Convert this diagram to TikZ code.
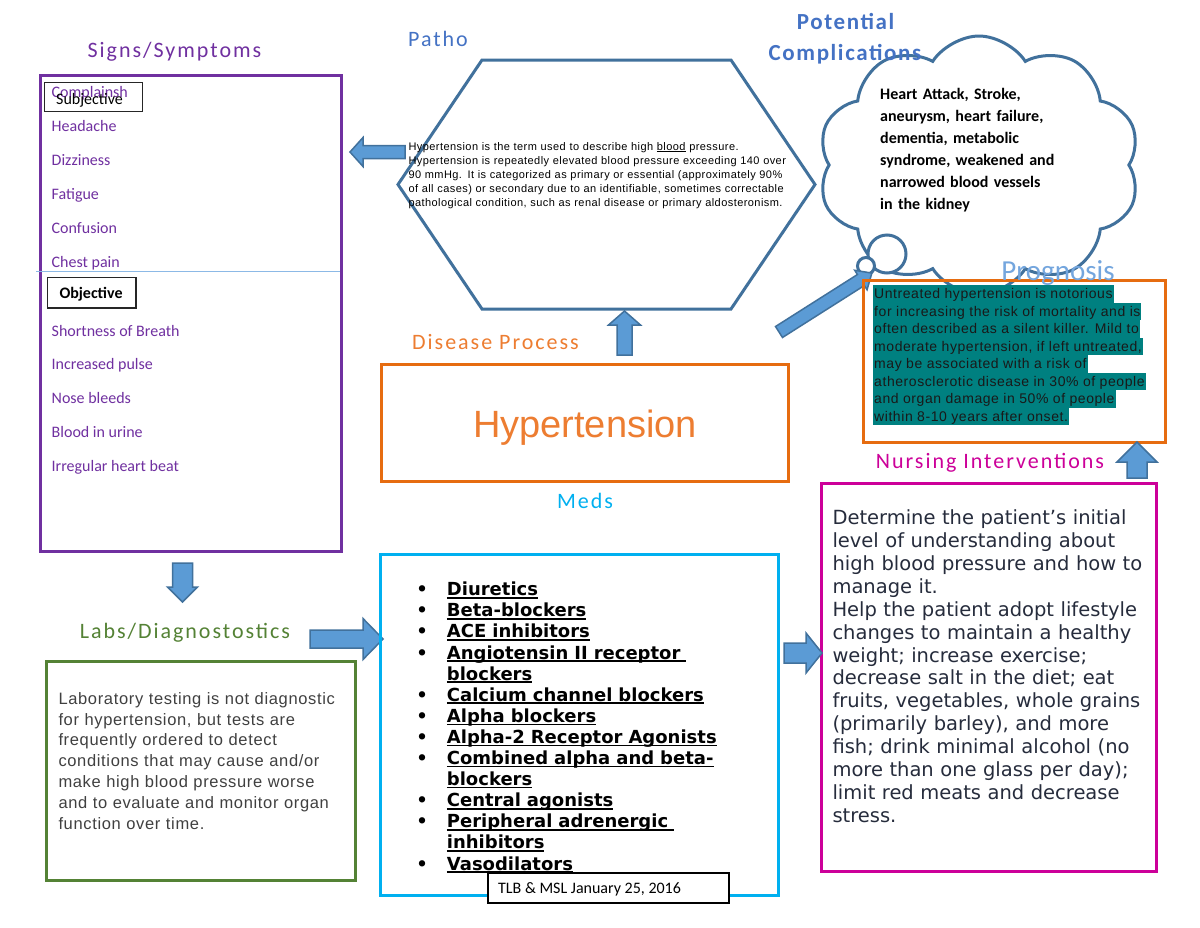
\documentclass[tikz,border=0pt]{standalone}
\usepackage{fontspec}
\setmainfont{Carlito}
\newfontfamily\headfont[LetterSpace=9]{Carlito}
\newfontfamily\headfontb[LetterSpace=7]{Carlito}
\newfontfamily\arialf{Liberation Sans}
\newfontfamily\arialsp[LetterSpace=4]{Liberation Sans}
\newfontfamily\verdf{DejaVu Sans}
\usetikzlibrary{shapes.symbols}
\definecolor{cpurple}{RGB}{112,48,160}
\definecolor{cblue}{RGB}{68,114,196}
\definecolor{cprog}{RGB}{116,166,222}
\definecolor{corange}{RGB}{237,125,49}
\definecolor{cobox}{RGB}{230,108,16}
\definecolor{ccyan}{RGB}{0,176,240}
\definecolor{cmag}{RGB}{204,0,153}
\definecolor{cgreen}{RGB}{84,130,53}
\definecolor{carrowf}{RGB}{91,155,213}
\definecolor{carrowd}{RGB}{65,113,156}
\definecolor{cline}{RGB}{140,185,230}
\definecolor{cteal}{RGB}{0,128,128}
\definecolor{cnurse}{RGB}{38,44,60}
\definecolor{clabs}{RGB}{64,64,64}
\newcommand\ulthick[1]{\leavevmode\setbox0\hbox{#1}\rlap{\rule[-2.8pt]{\wd0}{1.6pt}}\box0\relax}
\newcommand\ulthin[1]{\leavevmode\setbox0\hbox{#1}\rlap{\rule[-1.6pt]{\wd0}{0.8pt}}\box0\relax}
\newcommand\bul{\leavevmode\llap{\hbox to 30.5pt{\textbullet\hfil}}}
\tikzset{
  head/.style={anchor=base, inner sep=0, font=\headfont\fontsize{22}{26}\selectfont},
  lbl/.style={anchor=base west, inner sep=0},
  para/.style={anchor=base west, inner sep=0, align=left},
  frm/.style={line width=3},
  tag/.style={draw=black!85, line width=1.3},
  barrowsty/.style={fill=carrowf, draw=carrowd, line width=1.5, line join=miter},
  bubble/.style={draw=carrowd, line width=3, fill=white},
  item/.style={lbl, text=cpurple, font=\fontsize{16}{19}\selectfont},
  prog/.style={anchor=base west, fill=cteal, inner xsep=1, inner ysep=0, text height=13.5, text depth=4,
    text={rgb,255:red,25;green,25;blue,25}, font=\arialsp\fontsize{14}{17.5}\selectfont}
}
\newcommand\blockarrow[6]{\begin{scope}[shift={#1},rotate=#2]
\path[barrowsty] (0,-#4) -- ({#3-#6},-#4) -- ({#3-#6},-#5) -- (#3,0) -- ({#3-#6},#5) -- ({#3-#6},#4) -- (0,#4) -- cycle;
\end{scope}}
\begin{document}
\begin{tikzpicture}[x=1pt,y=-1pt]
\useasboundingbox (0,0) rectangle (1200,927);
\fill[white] (0,0) rectangle (1200,927);

% ---------- Signs / Symptoms ----------
\node[head, text=cpurple] (hsigns) at (174.5,57) {Signs/Symptoms};
\draw[frm, draw=cpurple] (40.8,75.8) rectangle (341.5,551.2);
\node[item] (s0) at (51.5,97) {Complainsh};
\draw[tag] (44.5,82.5) rectangle (142.5,111.5);
\node[lbl, font=\fontsize{16}{19}\selectfont] (subj) at (56,104) {Subjective};
\node[item] (s1) at (51.5,131) {Headache};
\node[item] (s2) at (51.5,165) {Dizziness};
\node[item] (s3) at (51.5,199) {Fatigue};
\node[item] (s4) at (51.5,233) {Confusion};
\node[item] (s5) at (51.5,267) {Chest pain};
\draw[cline, line width=1.2] (36,271.5) -- (340,271.5);
\draw[tag] (47.5,277.5) rectangle (136,308);
\node[lbl, font=\bfseries\fontsize{16}{19}\selectfont] (obj) at (59.3,298.3) {Objective};
\node[item] (o1) at (51.5,336) {Shortness of Breath};
\node[item] (o2) at (51.5,369.5) {Increased pulse};
\node[item] (o3) at (51.5,403) {Nose bleeds};
\node[item] (o4) at (51.5,437) {Blood in urine};
\node[item] (o5) at (51.5,471.5) {Irregular heart beat};

% ---------- Labs ----------
\blockarrow{(182.5,563)}{-90}{39}{10}{15}{15}
\node[head, text=cgreen] (hlabs) at (185,638.3) {Labs/Diagnostostics};
\blockarrow{(310,639)}{0}{73}{9}{20.5}{20}
\draw[frm, draw=cgreen] (46.5,661.5) rectangle (355.5,880.5);
\node[para, text width=300, text=clabs, font=\arialsp\fontsize{16.5}{20.83}\selectfont] (labs) at (58.3,704.3)
 {Laboratory testing is not diagnostic\\
  for hypertension, but tests are\\
  frequently ordered to detect\\
  conditions that may cause and/or\\
  make high blood pressure worse\\
  and to evaluate and monitor organ\\
  function over time.};

% ---------- Patho ----------
\node[head, text=cblue] (hpatho) at (438,46) {Patho};
\draw[carrowd, line width=3, line join=miter] (482,60) -- (731,60) -- (815,184.5) -- (731,309) -- (482,309) -- (398,184.5) -- cycle;
\blockarrow{(405,152)}{180}{55}{6.5}{14.5}{13}
\node[para, text width=420, font=\arialsp\fontsize{11}{14.17}\selectfont] (patho) at (408.3,150)
 {Hypertension is the term used to describe high \ulthin{blood} pressure.\\
  Hypertension is repeatedly elevated blood pressure exceeding 140 over\\
  90 mmHg. It is categorized as primary or essential (approximately 90\%\\
  of all cases) or secondary due to an identifiable, sometimes correctable\\
  pathological condition, such as renal disease or primary aldosteronism.};

% ---------- Disease process ----------
\node[head, text=corange] (hdis) at (495.5,349.3) {Disease Process};
\blockarrow{(624.5,355)}{90}{44}{7.5}{16}{14}
\draw[frm, draw=cobox] (381.5,364.5) rectangle (788.5,481.5);
\node[anchor=base, inner sep=0, text=corange, font=\arialf\fontsize{38}{44}\selectfont] (htn) at (585,437.3) {Hypertension};

% ---------- Meds ----------
\node[head, text=ccyan] (hmeds) at (585,508.3) {Meds};
\draw[frm, draw=ccyan] (380.5,554.5) rectangle (778.5,895.5);
\node[para, text width=330, font=\verdf\bfseries\fontsize{18}{21.1}\selectfont] (meds) at (446.7,595.7)
 {\bul\ulthick{Diuretics}\\
  \bul\ulthick{Beta-blockers}\\
  \bul\ulthick{ACE inhibitors}\\
  \bul\ulthick{Angiotensin II receptor\hspace{6pt}}\\
  \ulthick{blockers}\\
  \bul\ulthick{Calcium channel blockers}\\
  \bul\ulthick{Alpha blockers}\\
  \bul\ulthick{Alpha-2 Receptor Agonists}\\
  \bul\ulthick{Combined alpha and beta-}\\
  \ulthick{blockers}\\
  \bul\ulthick{Central agonists}\\
  \bul\ulthick{Peripheral adrenergic\hspace{6pt}}\\
  \ulthick{inhibitors}\\
  \bul\ulthick{Vasodilators}};
\draw[black, line width=2, fill=white] (488,873) rectangle (729,903);
\node[lbl, font=\fontsize{16}{19}\selectfont] (date) at (498,893) {TLB \& MSL January 25, 2016};

% ---------- Potential complications ----------
\node[cloud, cloud puffs=10, cloud puff arc=115, cloud ignores aspect, draw=carrowd, line width=3, fill=white,
      minimum width=322, minimum height=258] (cloud) at (979,165) {};
\node[bubble, circle, minimum size=38, inner sep=0] (bub1) at (887,254) {};
\node[bubble, circle, minimum size=17, inner sep=0] (bub2) at (866,266) {};
\node[anchor=base, inner sep=0, text=cblue, font=\headfontb\bfseries\fontsize{23}{27}\selectfont] (hpot1) at (845.5,29.3) {Potential};
\node[anchor=base, inner sep=0, text=cblue, font=\headfontb\bfseries\fontsize{23}{27}\selectfont] (hpot2) at (845,60) {Complications};
\node[para, text width=220, font=\bfseries\fontsize{16}{22}\selectfont] (comp) at (880,99.3)
 {Heart Attack, Stroke,\\
  aneurysm, heart failure,\\
  dementia, metabolic\\
  syndrome, weakened and\\
  narrowed blood vessels\\
  in the kidney};
\blockarrow{(779,332)}{32.4}{110}{6.5}{11.5}{13}

% ---------- Prognosis ----------
\draw[frm, draw=cobox] (863.5,280.5) rectangle (1165.5,442.5);
\node[prog] (pg1) at (873,298.5) {Untreated hypertension is notorious\ };
\node[prog] (pg2) at (873,316) {for increasing the risk of mortality and is\ };
\node[prog] (pg3) at (873,333.5) {often described as a silent killer. Mild to\ };
\node[prog] (pg4) at (873,351) {moderate hypertension, if left untreated,};
\node[prog] (pg5) at (873,368.5) {may be associated with a risk of\ };
\node[prog] (pg6) at (873,386) {atherosclerotic disease in 30\% of people\ };
\node[prog] (pg7) at (873,403.5) {and organ damage in 50\% of people\ };
\node[prog] (pg8) at (873,421) {within 8-10 years after onset.};
\node[anchor=base, inner sep=0, text=cprog, font=\fontsize{29}{33}\selectfont] (hprog) at (1058,280) {Prognosis};

% ---------- Nursing interventions ----------
\blockarrow{(1137,478)}{90}{36}{10}{20}{20}
\node[head, text=cmag] (hnurse) at (990,468) {Nursing Interventions};
\draw[frm, draw=cmag] (821.5,483.5) rectangle (1156.5,871.5);
\blockarrow{(784,653)}{0}{38}{10}{20}{16}
\node[para, text width=330, text=cnurse, font=\verdf\fontsize{19.5}{22.95}\selectfont] (nurse) at (832.3,524.3)
 {Determine the patient’s initial\\
  level of understanding about\\
  high blood pressure and how to\\
  manage it.\\
  Help the patient adopt lifestyle\\
  changes to maintain a healthy\\
  weight; increase exercise;\\
  decrease salt in the diet; eat\\
  fruits, vegetables, whole grains\\
  (primarily barley), and more\\
  fish; drink minimal alcohol (no\\
  more than one glass per day);\\
  limit red meats and decrease\\
  stress.};
\end{tikzpicture}
\end{document}
